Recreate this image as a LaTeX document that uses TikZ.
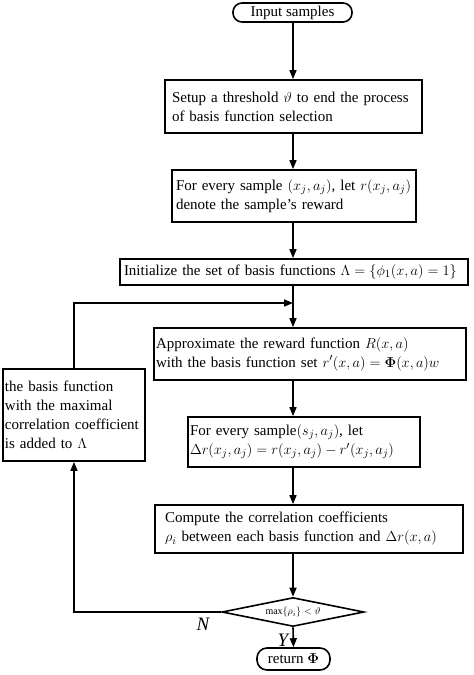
\documentclass[tikz,border=0pt]{standalone}
\usepackage{fontspec}
\setmainfont{Liberation Serif}
\usepackage{amsmath,bm}
\usetikzlibrary{arrows.meta,shapes.geometric}
\tikzset{
  boxstyle/.style={draw, line width=1.8pt, rectangle, inner ysep=0pt, align=left, font=\fontsize{15}{19}\selectfont},
  termstyle/.style={draw, line width=1.6pt, rectangle, rounded corners=9pt, inner sep=0pt, font=\fontsize{15}{16}\selectfont},
  arr/.style={line width=1.6pt, -{Triangle[length=9pt,width=7pt]}},
  lbl/.style={font=\fontsize{19}{19}\selectfont\itshape, inner sep=0pt}
}
\begin{document}
\begin{tikzpicture}[x=1pt,y=-1pt]
\useasboundingbox (0,0) rectangle (474,675);
\coordinate (ax) at (293,0);
\node[termstyle, minimum width=119pt, minimum height=19pt] (start) at (292.5,12.5) {Input samples};
\node[boxstyle, inner xsep=7pt, minimum width=257pt, minimum height=53pt, text width=243pt] (b1) at (293.5,106.5)
  {Setup a threshold $\vartheta$ to end the process\\of basis function selection};
\node[boxstyle, inner xsep=4pt, minimum width=244pt, minimum height=52pt, text width=236pt] (b2) at (294,196)
  {For every sample $(x_j,a_j)$, let $r(x_j,a_j)$\\ denote the sample's reward};
\node[boxstyle, inner xsep=4pt, minimum width=348pt, minimum height=26pt, text width=340pt] (b3) at (294,272)
  {Initialize the set of basis functions $\Lambda=\{\phi_1(x,a)=1\}$};
\node[boxstyle, inner xsep=2pt, minimum width=312pt, minimum height=52pt, text width=308pt] (b4) at (310,354)
  {Approximate the reward function $R(x,a)$\\ with the basis function set $r'(x,a)=\bm{\Phi}(x,a)w$};
\node[boxstyle, inner xsep=2pt, minimum width=232pt, minimum height=50pt, text width=228pt] (b5) at (304,442)
  {For every sample$(s_j,a_j)$, let\\$\Delta r(x_j,a_j)=r(x_j,a_j)-r'(x_j,a_j)$};
\node[boxstyle, inner xsep=10pt, minimum width=308pt, minimum height=48pt, text width=288pt] (b6) at (309,529)
  {Compute the correlation coefficients\\$\rho_i$ between each basis function and $\Delta r(x,a)$};
\node[draw, line width=1.6pt, diamond, aspect=4.9, minimum width=142pt, minimum height=29pt, inner sep=0pt, font=\fontsize{10}{10}\selectfont] (dia) at (293,612)
  {$\max\{\rho_i\}<\vartheta$};
\node[termstyle, rounded corners=10pt, minimum width=73pt, minimum height=22pt] (ret) at (293.5,659) {return $\bm{\Phi}$};
\node[boxstyle, inner xsep=2pt, minimum width=142pt, minimum height=92pt, text width=138pt] (lb) at (74,415)
  {the basis function\\with the maximal\\correlation coefficient\\is added to $\Lambda$};
\coordinate (j) at (293,303);
\draw[arr] (start.south -| ax) -- (b1.north -| ax);
\draw[arr] (b1.south -| ax) -- (b2.north -| ax);
\draw[arr] (b2.south -| ax) -- (b3.north -| ax);
\draw[arr] (b3.south -| ax) -- (b4.north -| ax);
\draw[arr] (b4.south -| ax) -- (b5.north -| ax);
\draw[arr] (b5.south -| ax) -- (b6.north -| ax);
\draw[arr] (b6.south -| ax) -- (dia.north);
\draw[arr] (dia.south) -- (ret.north);
\draw[arr] (dia.west) -| (lb.south);
\draw[arr] (lb.north) |- (j);
\node[lbl] (nlab) at (203,624) {N};
\node[lbl] (ylab) at (283,640) {Y};
\end{tikzpicture}
\end{document}
